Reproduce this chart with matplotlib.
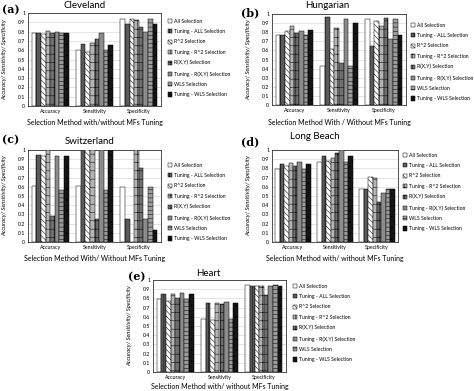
import numpy as np
import matplotlib
matplotlib.use('Agg')
import matplotlib.pyplot as plt

plt.rcParams['font.family'] = ['Lato', 'DejaVu Sans']
plt.rcParams['hatch.linewidth'] = 0.35

"""Data read from the figure"""

categories = ['Accuracy', 'Sensitivity', 'Specificity']
series = ['All Selection', 'Tuning - ALL Selection', 'R^2 Selection',
          'Tuning - R^2 Selection', 'R(X,Y) Selection',
          'Tuning - R(X,Y) Selection', 'WLS Selection',
          'Tuning - WLS Selection']

# one row per category, one value per series
cleveland = [[0.78, 0.78, 0.77, 0.81, 0.79, 0.80, 0.78, 0.78],
             [0.60, 0.67, 0.58, 0.68, 0.72, 0.79, 0.60, 0.66],
             [0.94, 0.88, 0.94, 0.92, 0.85, 0.80, 0.94, 0.88]]
hungarian = [[0.77, 0.77, 0.81, 0.87, 0.79, 0.81, 0.77, 0.82],
             [0.43, 0.97, 0.62, 0.85, 0.46, 0.94, 0.43, 0.90],
             [0.95, 0.65, 0.92, 0.87, 0.96, 0.73, 0.95, 0.77]]
switzerland = [[0.61, 0.95, 0.94, 1.00, 0.28, 0.94, 0.56, 0.94],
               [0.61, 1.00, 1.00, 1.00, 0.25, 1.00, 0.56, 1.00],
               [0.60, 0.25, 0.00, 1.00, 0.80, 0.25, 0.60, 0.13]]
long_beach = [[0.79, 0.85, 0.83, 0.86, 0.83, 0.87, 0.79, 0.85],
              [0.87, 0.94, 0.88, 0.91, 0.97, 1.00, 0.87, 0.94],
              [0.58, 0.58, 0.71, 0.70, 0.44, 0.53, 0.58, 0.58]]
heart = [[0.79, 0.85, 0.77, 0.85, 0.80, 0.86, 0.79, 0.85],
         [0.58, 0.75, 0.56, 0.75, 0.74, 0.76, 0.58, 0.75],
         [0.95, 0.93, 0.94, 0.93, 0.84, 0.93, 0.95, 0.93]]

titles = ['Cleveland', 'Hungarian', 'Switzerland', 'Long Beach', 'Heart']
tags = ['(a)', '(b)', '(c)', '(d)', '(e)']
xlabels = ['Selection Method with/without MFs Tuning',
           'Selection Method With / Without MFs Tuning',
           'Selection Method With/ Without MFs Tuning',
           'Selection Method with/ without MFs Tuning',
           'Selection Method with/ without MFs Tuning']
ylabel = 'Accuracy/ Sensitivity/ Specificity'

# bar styles (face, hatch)
faces = ['white', '#5a5a5a', 'white', '#b4b4b4', '#707070', '#8c8c8c', '#9c9c9c', '#151515']
hatches = ['', '|||', '\\\\\\\\\\\\', '++', '++', '', '----', '...']

"""Layout in pixels"""
W, H = 474, 391
fig = plt.figure(figsize=(W / 100, H / 100), dpi=100)

def px_axes(l, t, r, b):
    return fig.add_axes([l / W, 1 - b / H, (r - l) / W, (b - t) / H])

# axes box, legend anchor, title pos, tag pos, ylabel x, xlabel y
panels = [
    dict(box=(28, 13, 161, 106), leg=(165, 58), title=(85, 6), tag=(2, 10), ylx=5, xly=122),
    dict(box=(272, 14, 406, 105), leg=(408, 62), title=(327, 5), tag=(241, 13), ylx=249, xly=123),
    dict(box=(28, 150, 161, 242), leg=(165, 202), title=(90, 142), tag=(2, 140), ylx=5, xly=258),
    dict(box=(272, 150, 398, 242), leg=(400, 192), title=(315, 137), tag=(241, 142), ylx=249, xly=258),
    dict(box=(153, 280, 286, 372), leg=(290, 323), title=(208, 273), tag=(128, 277), ylx=130, xly=387),
]

datasets = [cleveland, hungarian, switzerland, long_beach, heart]
x = np.arange(len(categories))
bw = 0.105

for k, data in enumerate(datasets):
    p = panels[k]
    ax = px_axes(*p['box'])
    vals = np.array(data).T
    for i, name in enumerate(series):
        ax.bar(x + (i - 3.5) * bw, vals[i], bw, color=faces[i], hatch=hatches[i],
               edgecolor='black', linewidth=0.35, label=name, zorder=3)
    ax.set_ylim(0, 1)
    ax.set_xlim(-0.5, 2.5)
    ax.set_yticks(np.arange(0, 1.01, 0.1))
    ax.set_yticklabels(['0'] + ['%.1f' % v for v in np.arange(0.1, 0.95, 0.1)] + ['1'])
    ax.set_xticks(x)
    ax.set_xticklabels(categories)
    ax.tick_params(labelsize=3.8, length=0, pad=2)
    ax.grid(axis='y', color='#d0d0d0', linewidth=0.4, zorder=0)
    for s in ax.spines.values():
        s.set_linewidth(0.6)
        s.set_color('#333333')

    l, t, r, b = p['box']
    fig.text(p['title'][0] / W, 1 - p['title'][1] / H, titles[k], fontsize=7,
             ha='center', va='center')
    fig.text(p['tag'][0] / W, 1 - p['tag'][1] / H, tags[k], fontsize=8,
             fontweight='bold', family='DejaVu Serif', ha='left', va='center')
    fig.text(p['ylx'] / W, 1 - ((t + b) / 2) / H, ylabel, fontsize=4.2,
             rotation=90, ha='center', va='center', style='italic')
    fig.text(((l + r) / 2) / W, 1 - p['xly'] / H, xlabels[k], fontsize=5,
             ha='center', va='center')
    fig.legend(*ax.get_legend_handles_labels(), loc='center left',
               bbox_to_anchor=(p['leg'][0] / W, 1 - p['leg'][1] / H),
               frameon=False, fontsize=3.7, handlelength=0.9, handleheight=0.9,
               handletextpad=0.3, labelspacing=1.05, borderpad=0)

fig.savefig('out.png', dpi=100)
